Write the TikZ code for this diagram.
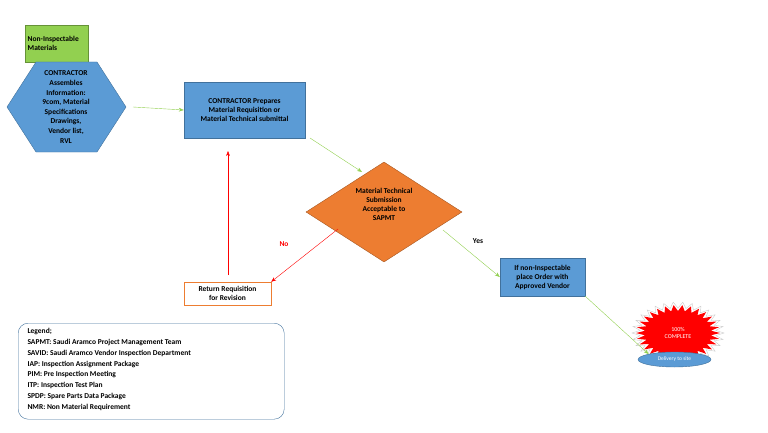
\documentclass[tikz,border=0pt]{standalone}
\usepackage{fontspec}
\setmainfont{Carlito}
\usetikzlibrary{shapes.geometric,arrows.meta}
\definecolor{bl}{HTML}{5B9BD5}
\definecolor{bd}{HTML}{41719C}
\definecolor{gr}{HTML}{92D050}
\definecolor{og}{HTML}{ED7D31}
\begin{document}
\begin{tikzpicture}[x=1pt,y=-1pt,font=\bfseries\fontsize{7.5}{9}\selectfont,
 box/.style={draw=bd,fill=bl,align=center,inner sep=2pt},
 ga/.style={draw=gr,-{Stealth[length=5pt]}},
 ra/.style={draw=red,-{Stealth[length=5pt]}}]
\useasboundingbox (0,0) rectangle (768,433);
\node[box,minimum width=63pt,minimum height=37pt,fill=gr,draw=gr!70!black,text width=58pt,align=left,anchor=north west] (nim) at (25,25) {Non-Inspectable Materials};
\fill[bl,draw=bd] (7,107) -- (36,62) -- (97,62) -- (126,107) -- (97,152) -- (36,152) -- cycle;
\node[align=center,font=\bfseries\fontsize{7.5}{9.6}\selectfont] (hex) at (66,107) {CONTRACTOR\\Assembles\\Information:\\9com, Material\\Specifications\\Drawings,\\Vendor list,\\RVL};
\coordinate (hexr) at (133,107);
\node[box,minimum width=121pt,minimum height=56pt] (prep) at (244.5,110) {CONTRACTOR Prepares\\Material Requisition or\\Material Technical submittal};
\node[diamond,draw=og!70!black,fill=og,aspect=1.56,minimum width=156pt,minimum height=100pt,inner sep=0pt] (dia) at (384,212) {};
\node[align=center] (diat) at (384,204) {Material Technical\\Submission\\Acceptable to\\SAPMT};
\node[draw=og,fill=white,minimum width=87pt,minimum height=23pt,inner sep=1pt,align=center] (ret) at (227.5,293.5) {Return Requisition\\for Revision};
\node[box,minimum width=85pt,minimum height=38pt] (ven) at (542.5,277) {If non-Inspectable\\place Order with\\Approved Vendor};
\draw[gray!40,fill=white] ({678+46},333) \foreach \a in {6,12,...,354}{ -- ({678+(mod(\a,12)==0?46:38)*cos(\a)},{333+(mod(\a,12)==0?31:25)*sin(\a)}) } -- cycle;
\fill[red] ({678+42},333) \foreach \a in {6,12,...,354}{ -- ({678+(mod(\a,12)==0?42:33)*cos(\a)},{333+(mod(\a,12)==0?28:22)*sin(\a)}) } -- cycle;
\node[font=\fontsize{6}{7}\selectfont,text=white,align=center] (star) at (678,333) {100\%\\COMPLETE};
\node[ellipse,draw=bd,fill=bl,minimum width=73pt,minimum height=15pt,inner sep=0pt,font=\fontsize{5.5}{6}\selectfont,text=white] (del) at (674.5,359.5) {Delivery to site};
\draw[ga] (hexr) -- (prep.west);
\coordinate (p1) at (310,138);
\draw[ga] (p1) -- (362,172);
\coordinate (r1) at (228,275);
\draw[ra] (r1) -- (228,151);
\draw[ra] (338,229) -- (ret.north east);
\draw[ga] (443,230) -- (ven.west);
\draw[ga] (ven.south east) -- (del.north west);
\node[text=red] (no) at (284,244) {No};
\node (yes) at (478,241) {Yes};
\node[draw=bd,rounded corners=10pt,minimum width=266pt,minimum height=96pt,anchor=north west,inner sep=0pt] (leg) at (18,323) {};
\node[anchor=north west,align=left,font=\bfseries\fontsize{7.5}{10.8}\selectfont] (legt) at (24,325) {Legend;\\SAPMT: Saudi Aramco Project Management Team\\SAVID: Saudi Aramco Vendor Inspection Department\\IAP: Inspection Assignment Package\\PIM: Pre Inspection Meeting\\ITP: Inspection Test Plan\\SPDP: Spare Parts Data Package\\NMR: Non Material Requirement};
\end{tikzpicture}
\end{document}
